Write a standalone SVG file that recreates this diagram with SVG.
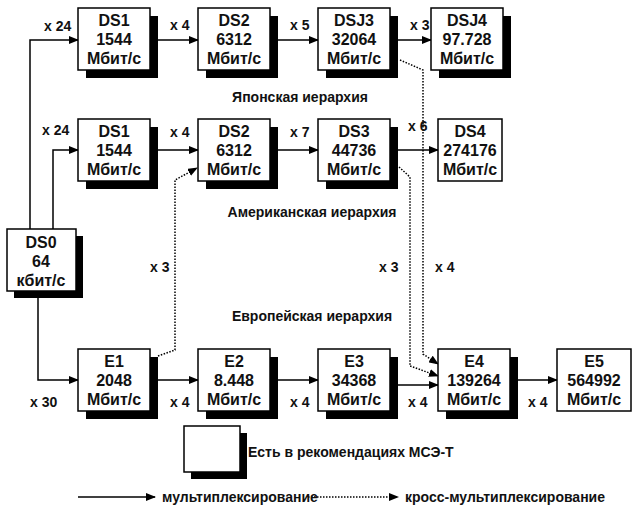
<svg xmlns="http://www.w3.org/2000/svg" width="642" height="529" viewBox="0 0 642 529">
<defs>
<marker id="a" markerWidth="10" markerHeight="8" refX="9" refY="4" orient="auto" markerUnits="userSpaceOnUse"><path d="M0,0 L10,4 L0,8 z" fill="#000"/></marker>
<style>
text{font-family:"Liberation Sans",Arial,sans-serif;font-weight:bold;font-size:14px;fill:#111}
.n text{text-anchor:middle;font-size:16px}
.b{fill:#fff;stroke:#000;stroke-width:1.5}
.c{fill:none;stroke:#000;stroke-width:1.5}
.d{fill:none;stroke:#000;stroke-width:1.5;stroke-dasharray:1.5 1.5}
</style>
</defs>
<rect width="642" height="529" fill="#fff"/>
<g id="connectors">
<path class="c" d="M30,229 V40 H78" marker-end="url(#a)"/>
<path class="c" d="M53,229 V150 H78" marker-end="url(#a)"/>
<path class="c" d="M38,291 V380 H78" marker-end="url(#a)"/>
<path class="c" d="M158,40 H198" marker-end="url(#a)"/>
<path class="c" d="M278,40 H318" marker-end="url(#a)"/>
<path class="c" d="M398,40 H431" marker-end="url(#a)"/>
<path class="c" d="M158,150 H198" marker-end="url(#a)"/>
<path class="c" d="M278,150 H318" marker-end="url(#a)"/>
<path class="c" d="M398,150 H438" marker-end="url(#a)"/>
<path class="c" d="M158,380 H198" marker-end="url(#a)"/>
<path class="c" d="M278,380 H318" marker-end="url(#a)"/>
<path class="c" d="M398,385 H438" marker-end="url(#a)"/>
<path class="c" d="M518,380 H557" marker-end="url(#a)"/>
<path class="d" d="M400,60 L423,70 V354 L438,364" marker-end="url(#a)"/>
<path class="d" d="M399,167 L410,177 V366 L438,376" marker-end="url(#a)"/>
<path class="d" d="M158,356 L175,350 V180 L197,168" marker-end="url(#a)"/>
<path class="c" d="M78,497 H155" marker-end="url(#a)"/>
<path class="d" d="M308,497 H398" marker-end="url(#a)"/>
</g>
<g id="labels">
<text x="44" y="31">x 24</text>
<text x="42" y="135">x 24</text>
<text x="170" y="30">x 4</text>
<text x="290" y="30">x 5</text>
<text x="410" y="30">x 3</text>
<text x="170" y="137">x 4</text>
<text x="290" y="137">x 7</text>
<text x="408" y="131">x 6</text>
<text x="300" y="102" text-anchor="middle">Японская иерархия</text>
<text x="312" y="217" text-anchor="middle">Американская иерархия</text>
<text x="312" y="321" text-anchor="middle">Европейская иерархия</text>
<text x="150" y="272">x 3</text>
<text x="379" y="272">x 3</text>
<text x="435" y="272">x 4</text>
<text x="30" y="407">x 30</text>
<text x="170" y="407">x 4</text>
<text x="290" y="407">x 4</text>
<text x="408" y="407">x 4</text>
<text x="528" y="407">x 4</text>
<text x="248" y="457" font-weight="normal" font-size="15">Есть в рекомендациях МСЭ-Т</text>
<text x="162" y="502" font-weight="normal" font-size="14">мультиплексирование</text>
<text x="405" y="502" font-weight="normal" font-size="14">кросс-мультиплексирование</text>
</g>
<g id="legend"><rect fill="#000" x="191" y="433" width="56" height="46"/><rect class="b" x="184" y="426" width="56" height="46"/></g>
<g id="DS0" class="n"><rect fill="#000" x="14" y="236" width="69" height="62"/><rect class="b" x="7" y="229" width="69" height="62"/><text x="41" y="248">DS0</text><text x="41" y="267">64</text><text x="41" y="286">кбит/с</text></g>
<g id="JDS1" class="n"><rect fill="#000" x="86" y="16" width="72" height="62"/><rect class="b" x="78" y="8" width="72" height="62"/><text x="114" y="26">DS1</text><text x="114" y="45">1544</text><text x="114" y="64">Мбит/с</text></g>
<g id="JDS2" class="n"><rect fill="#000" x="206" y="16" width="72" height="62"/><rect class="b" x="198" y="8" width="72" height="62"/><text x="234" y="26">DS2</text><text x="234" y="45">6312</text><text x="234" y="64">Мбит/с</text></g>
<g id="DSJ3" class="n"><rect fill="#000" x="326" y="16" width="72" height="62"/><rect class="b" x="318" y="8" width="72" height="62"/><text x="354" y="26">DSJ3</text><text x="354" y="45">32064</text><text x="354" y="64">Мбит/с</text></g>
<g id="DSJ4" class="n"><rect fill="#000" x="439" y="16" width="72" height="62"/><rect class="b" x="431" y="8" width="72" height="62"/><text x="467" y="26">DSJ4</text><text x="467" y="45">97.728</text><text x="467" y="64">Мбит/с</text></g>
<g id="ADS1" class="n"><rect fill="#000" x="86" y="127" width="72" height="62"/><rect class="b" x="78" y="119" width="72" height="62"/><text x="114" y="137">DS1</text><text x="114" y="156">1544</text><text x="114" y="175">Мбит/с</text></g>
<g id="ADS2" class="n"><rect fill="#000" x="206" y="127" width="72" height="62"/><rect class="b" x="198" y="119" width="72" height="62"/><text x="234" y="137">DS2</text><text x="234" y="156">6312</text><text x="234" y="175">Мбит/с</text></g>
<g id="DS3" class="n"><rect fill="#000" x="326" y="127" width="72" height="62"/><rect class="b" x="318" y="119" width="72" height="62"/><text x="354" y="137">DS3</text><text x="354" y="156">44736</text><text x="354" y="175">Мбит/с</text></g>
<g id="DS4" class="n"><rect class="b" x="438" y="119" width="64" height="62"/><text x="470" y="137">DS4</text><text x="470" y="156">274176</text><text x="470" y="175">Мбит/с</text></g>
<g id="E1" class="n"><rect fill="#000" x="86" y="357" width="72" height="62"/><rect class="b" x="78" y="349" width="72" height="62"/><text x="114" y="367">E1</text><text x="114" y="386">2048</text><text x="114" y="405">Мбит/с</text></g>
<g id="E2" class="n"><rect fill="#000" x="206" y="357" width="72" height="62"/><rect class="b" x="198" y="349" width="72" height="62"/><text x="234" y="367">E2</text><text x="234" y="386">8.448</text><text x="234" y="405">Мбит/с</text></g>
<g id="E3" class="n"><rect fill="#000" x="326" y="357" width="72" height="62"/><rect class="b" x="318" y="349" width="72" height="62"/><text x="354" y="367">E3</text><text x="354" y="386">34368</text><text x="354" y="405">Мбит/с</text></g>
<g id="E4" class="n"><rect fill="#000" x="446" y="357" width="72" height="62"/><rect class="b" x="438" y="349" width="72" height="62"/><text x="474" y="367">E4</text><text x="474" y="386">139264</text><text x="474" y="405">Мбит/с</text></g>
<g id="E5" class="n"><rect class="b" x="557" y="349" width="74" height="62"/><text x="594" y="367">E5</text><text x="594" y="386">564992</text><text x="594" y="405">Мбит/с</text></g>
</svg>
